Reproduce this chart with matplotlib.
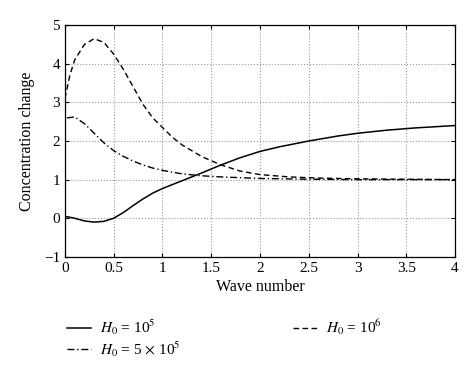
import numpy as np
import matplotlib
matplotlib.use("Agg")
import matplotlib.pyplot as plt

plt.rcParams['font.family'] = ['Liberation Serif', 'DejaVu Serif']
plt.rcParams['mathtext.fontset'] = 'stix'

# values
x_solid = [0.0, 0.1, 0.2, 0.3, 0.4, 0.5, 0.6, 0.7, 0.8, 0.9, 1.0, 1.2, 1.4, 1.6,
           1.8, 2.0, 2.2, 2.5, 2.8, 3.0, 3.3, 3.6, 4.0]
y_solid = [0.05, 0.0, -0.07, -0.1, -0.08, 0.0, 0.15, 0.33, 0.5, 0.65, 0.77, 0.97,
           1.17, 1.38, 1.57, 1.73, 1.85, 2.0, 2.13, 2.2, 2.28, 2.34, 2.4]

x_dash = [0.0, 0.05, 0.1, 0.2, 0.3, 0.4, 0.5, 0.6, 0.7, 0.8, 0.9, 1.0, 1.1, 1.2,
          1.4, 1.6, 1.8, 2.0, 2.3, 2.6, 3.0, 4.0]
y_dash = [3.1, 3.7, 4.1, 4.5, 4.65, 4.55, 4.25, 3.85, 3.4, 2.95, 2.6, 2.35, 2.1,
          1.9, 1.6, 1.38, 1.22, 1.13, 1.07, 1.04, 1.02, 1.0]

x_dd = [0.02, 0.1, 0.2, 0.3, 0.4, 0.5, 0.6, 0.7, 0.8, 0.9, 1.0, 1.2, 1.4, 1.6,
        2.0, 2.5, 3.0, 4.0]
y_dd = [2.6, 2.62, 2.45, 2.2, 1.95, 1.75, 1.6, 1.48, 1.38, 1.3, 1.24, 1.15, 1.1,
        1.07, 1.03, 1.01, 1.0, 1.0]

labels = [r'$H_0$ = 10$^5$', r'$H_0$ = 5 $\times$ 10$^5$', r'$H_0$ = 10$^6$']

fig = plt.figure(figsize=(4.74, 3.75), dpi=100)
ax = fig.add_axes([0.137, 0.315, 0.823, 0.618])

l1, = ax.plot(x_solid, y_solid, 'k-', lw=1.1)
l3, = ax.plot(x_dash, y_dash, 'k--', lw=1.0, dashes=(4, 2.5))
l2, = ax.plot(x_dd, y_dd, 'k-.', lw=1.0, dashes=(5, 2, 1, 2))

ax.set_xlim(0, 4)
ax.set_ylim(-1, 5)
ax.set_xticks(np.arange(0, 4.01, 0.5))
ax.set_xticklabels(['0', '0.5', '1', '1.5', '2', '2.5', '3', '3.5', '4'])
ax.set_yticks(range(-1, 6))
ax.set_yticklabels(['\u22121', '0', '1', '2', '3', '4', '5'])
ax.tick_params(direction='in', top=True, right=True, labelsize=11, length=3)
ax.grid(True, linestyle=':', color='#999999', lw=0.8)
for s in ax.spines.values():
    s.set_linewidth(0.9)

ax.set_xlabel('Wave number', fontsize=11.5, labelpad=3)
ax.set_ylabel('Concentration change', fontsize=11.5, labelpad=6)

fig.legend([l1, l2, l3], labels, ncol=2, loc='upper left',
           bbox_to_anchor=(0.112, 0.19), frameon=False, fontsize=11,
           handlelength=1.6, columnspacing=7.3, labelspacing=0.15,
           handletextpad=0.6)

fig.savefig('out.png', dpi=100)
